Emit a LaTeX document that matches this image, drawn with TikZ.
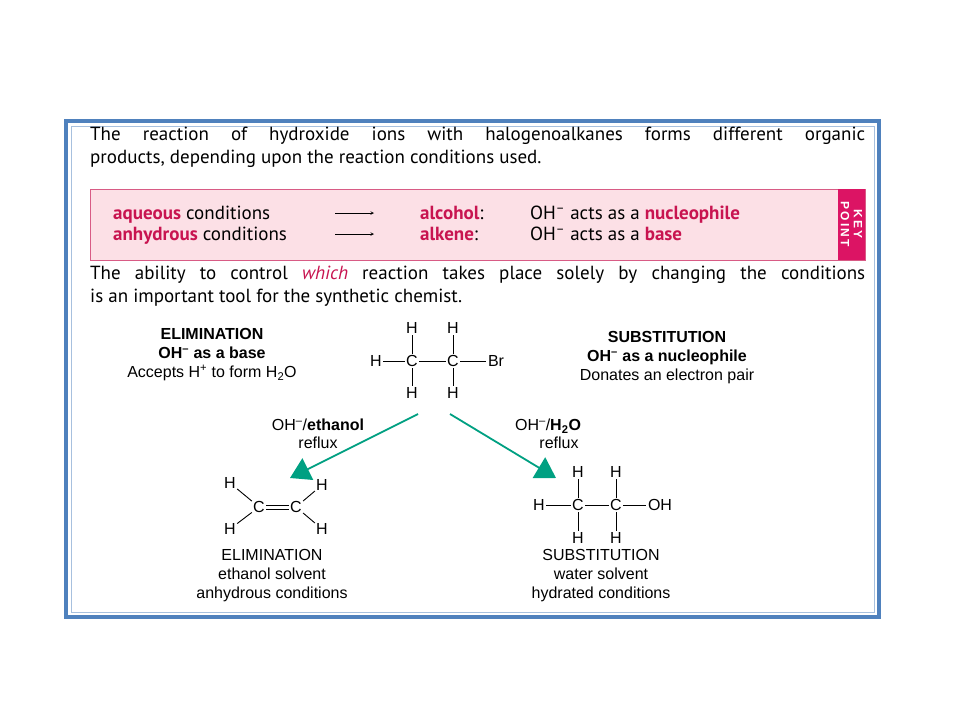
\documentclass[tikz,border=0pt]{standalone}
\usepackage{fontspec}
\usetikzlibrary{arrows.meta}
\setmainfont{Liberation Sans}
\newfontfamily\ptsans{PT Sans}
\definecolor{frameblue}{RGB}{79,129,189}
\definecolor{kpink}{RGB}{252,224,230}
\definecolor{kmag}{RGB}{220,20,100}
\definecolor{kred}{RGB}{200,20,80}
\definecolor{teal}{RGB}{0,160,130}
\begin{document}
\begin{tikzpicture}[x=1pt,y=-1pt,
  atm/.style={inner sep=0pt,font=\fontsize{16}{16}\selectfont},
  lb/.style={inner sep=0pt,font=\fontsize{16}{16}\selectfont,align=center},
  bond/.style={line width=0.9pt,shorten >=1.5pt,shorten <=1.5pt},
  rx/.style={teal,line width=1.8pt,-{Triangle[length=20pt,width=24pt]}},
  para/.style={inner sep=0pt,anchor=north west,font=\ptsans\fontsize{19}{23}\selectfont,text width=775pt,align=justify}]
\useasboundingbox (0,0) rectangle (960,720);
\fill[white] (0,0) rectangle (960,720);
\draw[frameblue,line width=4pt] (66,121) rectangle (879,617);
\draw[frameblue!50,line width=1pt] (71,126) rectangle (874,612);
% paragraph 1
\node[para] (p1) at (90,127) {The reaction of hydroxide ions with halogenoalkanes forms different organic\linebreak products, depending upon the reaction conditions used.};
% key point box
\draw[kred!70,fill=kpink,line width=0.8pt] (90,189) rectangle (865,260);
\fill[kmag] (838,189) rectangle (865,260);
\node[inner sep=0pt,rotate=-90,white,font=\bfseries\fontsize{12}{13}\selectfont,align=center] (kp) at (851.5,224) {K\,E\,Y\\P\,O\,I\,N\,T};
\begin{scope}[every node/.style={inner sep=0pt,anchor=base west,font=\ptsans\fontsize{19}{19}\selectfont}]
\node (a1) at (113,219) {\textcolor{kred}{\bfseries aqueous} conditions};
\node (a2) at (113,240) {\textcolor{kred}{\bfseries anhydrous} conditions};
\node (r1) at (420,219) {\textcolor{kred}{\bfseries alcohol}:};
\node (r2) at (420,240) {\textcolor{kred}{\bfseries alkene}:};
\node (o1) at (530,219) {OH\textsuperscript{–} acts as a \textcolor{kred}{\bfseries nucleophile}};
\node (o2) at (530,240) {OH\textsuperscript{–} acts as a \textcolor{kred}{\bfseries base}};
\end{scope}
\coordinate (ar1s) at (335,213); \coordinate (ar1e) at (374,213);
\coordinate (ar2s) at (335,234); \coordinate (ar2e) at (374,234);
\draw[-stealth,line width=0.6pt] (ar1s) -- (ar1e);
\draw[-stealth,line width=0.6pt] (ar2s) -- (ar2e);
% paragraph 2
\node[para] (p2) at (90,266) {The ability to control \textcolor{kred}{\itshape which} reaction takes place solely by changing the conditions\linebreak is an important tool for the synthetic chemist.};
% side labels
\node[lb] (el) at (212,355) {\bfseries ELIMINATION\\[3pt] \bfseries OH\textsuperscript{–} as a base\\[3pt] Accepts H\textsuperscript{+} to form H\textsubscript{2}O};
\node[lb] (su) at (667,358) {\bfseries SUBSTITUTION\\[3pt] \bfseries OH\textsuperscript{–} as a nucleophile\\[3pt] Donates an electron pair};
% bromoethane
\node[atm] (h1) at (376,361) {H};
\node[atm] (c1) at (412,361) {C};
\node[atm] (c2) at (453,361) {C};
\node[atm] (br) at (496,361) {Br};
\node[atm] (h2) at (412,328) {H};
\node[atm] (h3) at (453,328) {H};
\node[atm] (h4) at (412,393) {H};
\node[atm] (h5) at (453,393) {H};
\foreach \a/\b in {h1/c1,c1/c2,c2/br,h2/c1,h3/c2,c1/h4,c2/h5} \draw[bond] (\a) -- (\b);
% arrows
\coordinate (s1) at (418,414); \coordinate (e1) at (290,478);
\coordinate (s2) at (450,414); \coordinate (e2) at (556,478);
\draw[rx] (s1) -- (e1);
\draw[rx] (s2) -- (e2);
\node[lb] (l1) at (318,434) {OH\textsuperscript{–}/\textbf{ethanol}\\[2pt] reflux};
\node[lb] (l2) at (548,434) {OH\textsuperscript{–}/\textbf{H\textsubscript{2}O}\\[2pt] \hspace*{22pt}reflux};
% ethene
\node[atm] (eh1) at (230,483) {H};
\node[atm] (eh2) at (322,485) {H};
\node[atm] (eh3) at (230,529) {H};
\node[atm] (eh4) at (322,529) {H};
\node[atm] (ec1) at (259,507) {C};
\node[atm] (ec2) at (296,507) {C};
\draw[bond] (eh1) -- (ec1); \draw[bond] (eh3) -- (ec1);
\draw[bond] (eh2) -- (ec2); \draw[bond] (eh4) -- (ec2);
\draw[line width=0.9pt] ([yshift=-2pt,xshift=1.5pt]ec1.east) -- ([yshift=-2pt,xshift=-1.5pt]ec2.west);
\draw[line width=0.9pt] ([yshift=2pt,xshift=1.5pt]ec1.east) -- ([yshift=2pt,xshift=-1.5pt]ec2.west);
% ethanol
\node[atm] (sh1) at (539,505) {H};
\node[atm] (sc1) at (578,505) {C};
\node[atm] (sc2) at (616,505) {C};
\node[atm] (soh) at (660,505) {OH};
\node[atm] (sh2) at (578,472) {H};
\node[atm] (sh3) at (616,472) {H};
\node[atm] (sh4) at (578,538) {H};
\node[atm] (sh5) at (616,538) {H};
\foreach \a/\b in {sh1/sc1,sc1/sc2,sc2/soh,sh2/sc1,sh3/sc2,sc1/sh4,sc2/sh5} \draw[bond] (\a) -- (\b);
% bottom labels
\node[lb] (bl) at (272,576) {ELIMINATION\\[3pt] ethanol solvent\\[3pt] anhydrous conditions};
\node[lb] (brl) at (601,576) {SUBSTITUTION\\[3pt] water solvent\\[3pt] hydrated conditions};
\end{tikzpicture}
\end{document}
